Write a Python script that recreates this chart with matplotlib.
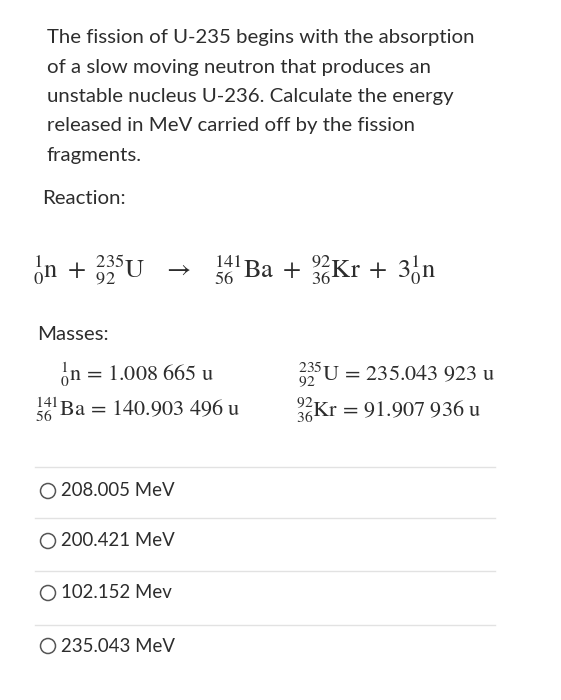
import matplotlib
matplotlib.use("Agg")
import matplotlib.pyplot as plt
from matplotlib.patches import Circle

plt.rcParams['mathtext.fontset'] = 'stix'
plt.rcParams['font.family'] = ['Lato', 'DejaVu Sans']

# ── content ──
question_lines = [
    "The fission of U-235 begins with the absorption",
    "of a slow moving neutron that produces an",
    "unstable nucleus U-236. Calculate the energy",
    "released in MeV carried off by the fission",
    "fragments.",
]
reaction_label = "Reaction:"
reaction = (r"${}^{1}_{0}\mathrm{n}\ +\ {}^{235}_{92}\mathrm{U}\quad\rightarrow\quad"
            r"{}^{141}_{56}\mathrm{Ba}\ +\ {}^{92}_{36}\mathrm{Kr}\ +\ 3{}^{1}_{0}\mathrm{n}$")
masses_label = "Masses:"
masses = [
    (r"${}^{1}_{0}\mathrm{n}\,=\,1.008\ 665\ \mathrm{u}$", 60, 375),
    (r"${}^{235}_{92}\mathrm{U}\,=\,235.043\ 923\ \mathrm{u}$", 298, 375),
    (r"${}^{141}_{56}\mathrm{Ba}\,=\,140.903\ 496\ \mathrm{u}$", 35, 410),
    (r"${}^{92}_{36}\mathrm{Kr}\,=\,91.907\ 936\ \mathrm{u}$", 296, 410),
]
options = ["208.005 MeV", "200.421 MeV", "102.152 Mev", "235.043 MeV"]
option_y = [491, 541, 593, 646]
separator_y = [467, 518, 571, 625]

W, H = 561, 700
fig = plt.figure(figsize=(W / 100, H / 100), dpi=100)
ax = fig.add_axes([0, 0, 1, 1])
ax.set_xlim(0, W)
ax.set_ylim(H, 0)
ax.axis('off')

txt = '#2d2d2d'
for i, line in enumerate(question_lines):
    ax.text(47, 38 + i * 29.3, line, fontsize=14.7, color=txt, va='center')
ax.text(42, 199, reaction_label, fontsize=14.7, color=txt, va='center')
ax.text(33, 270, reaction, fontsize=19, color=txt, va='center')
ax.text(37, 334, masses_label, fontsize=14.7, color=txt, va='center')
for s, x, y in masses:
    ax.text(x, y, s, fontsize=16, color=txt, va='center')

for y in separator_y:
    ax.plot([35, 495], [y, y], color='#e2e2e2', lw=1)

for label, y in zip(options, option_y):
    ax.add_patch(Circle((48, y), 7.5, fill=False, ec='#555555', lw=1.1))
    ax.text(61, y, label, fontsize=13.4, color=txt, va='center')

fig.savefig("out.png", dpi=100, facecolor='white')
